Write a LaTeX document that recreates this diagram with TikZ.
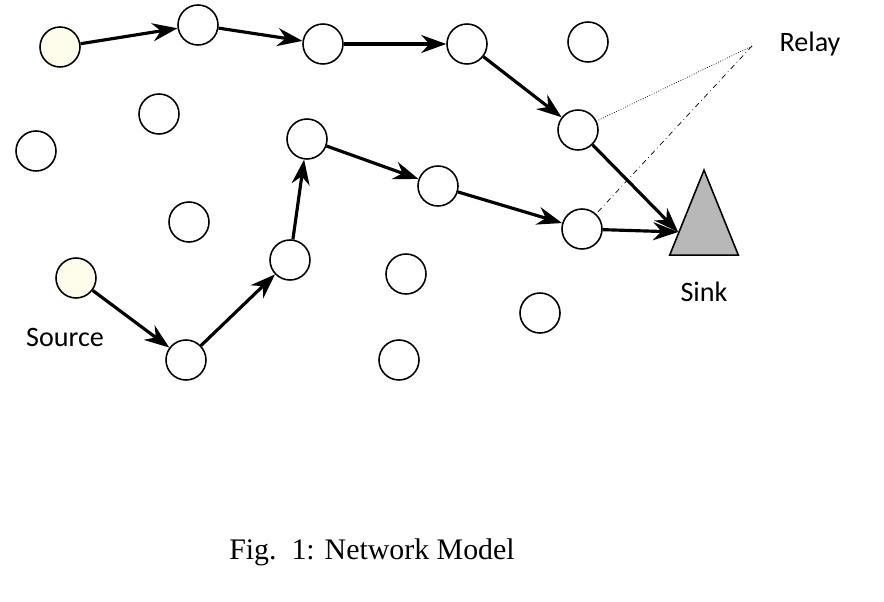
\documentclass[tikz,border=0pt]{standalone}
\usepackage{fontspec}
\setmainfont{Liberation Serif}
\newfontfamily\labelfont{Carlito}
\usetikzlibrary{arrows.meta,shapes.geometric}
\tikzset{
  mote/.style={circle, draw, line width=0.9pt, minimum size=0.8cm, inner sep=0pt},
  seed/.style={mote, fill=black!8!yellow!8},
  hop/.style={line width=1.8pt, -{Stealth[length=5mm,width=3.6mm]}},
  tag/.style={font=\labelfont\fontsize{16}{18}\selectfont}
}
\begin{document}
\begin{tikzpicture}[x=0.02cm, y=-0.02cm]
\useasboundingbox (0,0) rectangle (884,601);
% upper route
\node[seed] (a1) at (60,47) {};
\node[mote] (a2) at (198,25) {};
\node[mote] (a3) at (323,44) {};
\node[mote] (a4) at (467,44) {};
\node[mote] (a5) at (588,42) {};
\node[mote] (a6) at (578,130) {};
% middle
\node[mote] (b1) at (36,151) {};
\node[mote] (b2) at (159,114) {};
\node[mote] (b3) at (307,139) {};
\node[mote] (b4) at (438,186) {};
\node[mote] (b5) at (189,222) {};
\node[mote] (b6) at (582,229) {};
% lower
\node[seed] (c1) at (76,278) {};
\node[mote] (c2) at (290,260) {};
\node[mote] (c3) at (406,274) {};
\node[mote] (c4) at (540,313) {};
\node[mote] (c5) at (186,360) {};
\node[mote] (c6) at (399,360) {};
% sink
\node[isosceles triangle, shape border rotate=90, isosceles triangle apex angle=44,
  draw, line width=0.9pt, fill=black!28, minimum height=1.7cm, inner sep=0pt]
  (sink) at (704,232) {};
\node[tag] (sinktxt) at (704,292) {Sink};
\node[tag] (relay) at (810,44) {Relay};
\node[tag] (source) at (65,337) {Source};
\coordinate (rp) at (752,46);
\draw[densely dotted, thin] (rp) -- (a6);
\draw[dash dot, thin] (rp) -- (b6);
% routes
\draw[hop] (a1) -- (a2);
\draw[hop] (a2) -- (a3);
\draw[hop] (a3) -- (a4);
\draw[hop] (a4) -- (a6);
\draw[hop] (a6) -- (sink.west);
\draw[hop] (c1) -- (c5);
\draw[hop] (c5) -- (c2);
\draw[hop] (c2) -- (b3);
\draw[hop] (b3) -- (b4);
\draw[hop] (b4) -- (b6);
\draw[hop] (b6) -- (sink.west);
\node[font=\fontsize{17}{20}\selectfont] (cap) at (372,552) {Fig.~~1: Network Model};
\end{tikzpicture}
\end{document}
